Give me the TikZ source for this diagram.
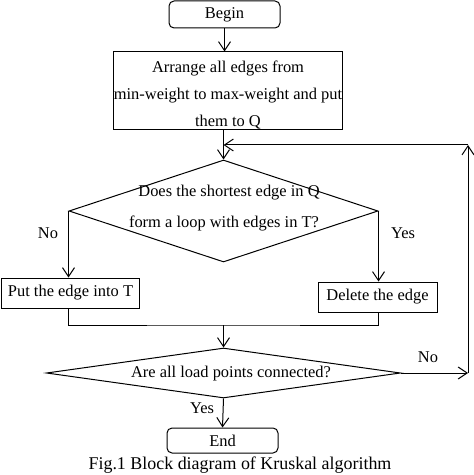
\documentclass[tikz,border=0pt]{standalone}
\usepackage{fontspec}
\setmainfont{Liberation Serif}
\usetikzlibrary{arrows.meta,shapes.geometric}
\begin{document}
\begin{tikzpicture}[x=1bp,y=-1bp,
  every node/.style={font=\fontsize{16.5}{27}\selectfont},
  box/.style={draw,line width=1bp,inner sep=0pt,align=center},
  rbox/.style={box,rounded corners=5bp},
  dia/.style={draw,line width=1bp,diamond,inner sep=0pt},
  txt/.style={inner sep=0pt},
  arr/.style={line width=1bp,-{Straight Barb[length=9bp,width=12bp]}},
  ln/.style={line width=1bp}]
\useasboundingbox (0,0) rectangle (474,475);
\fill[white] (0,0) rectangle (474,475);
\node[rbox,minimum width=111bp,minimum height=27bp] (begin) at (224.5,14.5) {Begin};
\node[box,minimum width=226bp,minimum height=78bp] (arrange) at (228,91)
  {\rule{0pt}{20bp}Arrange all edges from\\min-weight to max-weight and put\\them to Q};
\node[dia,minimum width=309bp,minimum height=102bp] (d1) at (223.5,211) {};
\node[txt] (d1a) at (229,193) {Does the shortest edge in Q};
\node[txt] (d1b) at (224,223) {form a loop with edges in T?};
\node[box,minimum width=137bp,minimum height=30bp] (put) at (70.5,293) {Put the edge into T};
\node[box,minimum width=119bp,minimum height=30bp] (del) at (377.5,297) {Delete the edge};
\coordinate (merge) at (223.5,325);
\node[dia,minimum width=354bp,minimum height=50bp] (d2) at (223.5,373) {};
\node[txt] (d2t) at (231,374) {Are all load points connected?};
\node[rbox,minimum width=111bp,minimum height=25bp] (end) at (222.5,440.5) {End};
\node[txt,font=\fontsize{18}{20}\selectfont] (cap) at (240,465.5) {Fig.1 Block diagram of Kruskal algorithm};
\coordinate (r1) at (468,373);
\coordinate (r2) at (468,145);
\coordinate (join) at (223.5,145);
\node[txt] (no1) at (48,233) {No};
\node[txt] (yes1) at (403,233) {Yes};
\node[txt] (no2) at (428,357) {No};
\node[txt] (yes2) at (202,408) {Yes};
% connectors
\draw[arr] (begin.south) -- (begin.south |- arrange.north);
\draw[arr] (arrange.south -| d1.north) -- (d1.north);
\draw[arr] (d1.west) -- (d1.west |- put.north);
\draw[arr] (d1.east) -- (d1.east |- del.north);
\draw[ln] (put.south -| d1.west) |- (merge) -| (del.south -| d1.east);
\draw[arr] (merge) -- (d2.north);
\draw[arr] (d2.south) -- (end.north);
\draw[arr] (d2.east) -- (r1);
\draw[arr] (r1) -- (r2);
\draw[arr] (r2) -- (join);
\end{tikzpicture}
\end{document}
